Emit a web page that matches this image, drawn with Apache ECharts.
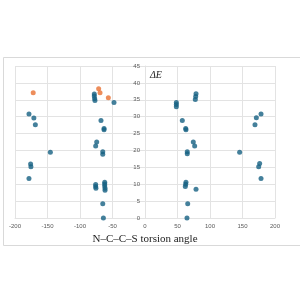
<!DOCTYPE html>
<html>
<head>
<meta charset="utf-8">
<script src="https://cdn.jsdelivr.net/npm/echarts@6/dist/echarts.min.js"></script>
<style>html,body{margin:0;padding:0;background:#fff;}#c{width:300px;height:300px;}</style>
</head>
<body>
<div id="c"></div>
<script>
// Data: [torsion angle, ΔE]
const blueSeries = [
  [-178.5, 30.8], [-171, 29.6], [-168.7, 27.6], [-145.6, 19.5],
  [-176, 16.0], [-175.5, 15.2], [-178.5, 11.7],
  [-78, 36.7], [-78, 36.1], [-77.5, 35.4], [-77, 34.8], [-47.7, 34.2],
  [-67.7, 28.9], [-63, 26.5], [-63, 26.1], [-74.3, 22.5], [-75.9, 21.3],
  [-65, 19.6], [-65, 18.9],
  [-75.9, 9.9], [-75.9, 9.3], [-75.5, 8.8],
  [-62, 10.6], [-62, 10.1], [-62, 9.5], [-61.5, 8.8], [-61.5, 8.2],
  [-65, 4.2], [-64, 0],
  [48.2, 34.2], [48.2, 33.6], [48.2, 32.9],
  [78.5, 36.8], [78, 36.0], [77.4, 35.1],
  [57.4, 28.9], [62.6, 26.5], [63, 26.1], [74.3, 22.5], [76.4, 21.3],
  [65, 19.6], [65, 19.0],
  [63, 10.6], [62.6, 10.0], [62, 9.3], [78.5, 8.5],
  [65.7, 4.2], [64.6, 0],
  [145.6, 19.5], [178.5, 30.8], [171.3, 29.7], [169.2, 27.6],
  [176.4, 16.1], [174.9, 15.2], [178.5, 11.7]
];
const orangeSeries = [
  [-172, 37.1], [-71.3, 38.3], [-69.2, 37.1], [-56.4, 35.6]
];
const xTitle = 'N–C–C–S torsion angle';
const yTitle = 'ΔE';

const chart = echarts.init(document.getElementById('c'), null, {renderer: 'canvas'});
const gridColor = '#e3e3e3';
const labelStyle = {color: '#595959', fontSize: 6, fontFamily: 'Liberation Sans'};
chart.setOption({
  animation: false,
  backgroundColor: '#fff',
  graphic: [{
    type: 'rect', left: 1, top: 55, silent: true, z: -10,
    shape: {width: 297, height: 188},
    style: {fill: 'none', stroke: '#d9d9d9', lineWidth: 1}
  }],
  grid: {left: 15, right: 25, top: 66, bottom: 82, containLabel: false},
  xAxis: {
    type: 'value', min: -200, max: 200, interval: 50,
    axisLine: {onZero: false, show: true, lineStyle: {color: gridColor}},
    axisTick: {show: false},
    splitLine: {show: true, lineStyle: {color: gridColor}},
    axisLabel: Object.assign({margin: 5}, labelStyle),
    name: xTitle, nameLocation: 'middle', nameGap: 14,
    nameTextStyle: {fontFamily: 'Liberation Serif', fontSize: 11, color: '#222'}
  },
  yAxis: {
    type: 'value', min: 0, max: 45, interval: 5,
    position: 'left', offset: -130,
    axisLine: {onZero: false, show: true, lineStyle: {color: gridColor}},
    axisTick: {show: false},
    splitLine: {show: true, lineStyle: {color: gridColor}},
    axisLabel: Object.assign({margin: 5}, labelStyle),
    name: yTitle, nameLocation: 'end', nameGap: -14,
    nameTextStyle: {fontFamily: 'Liberation Serif', fontStyle: 'italic', fontSize: 10, color: '#222', align: 'left', padding: [0, 0, 0, 5]}
  },
  series: [
    {type: 'scatter', data: blueSeries, symbolSize: 5, itemStyle: {color: '#156082'}},
    {type: 'scatter', data: orangeSeries, symbolSize: 5, itemStyle: {color: '#E97132'}}
  ]
});
</script>
</body>
</html>
